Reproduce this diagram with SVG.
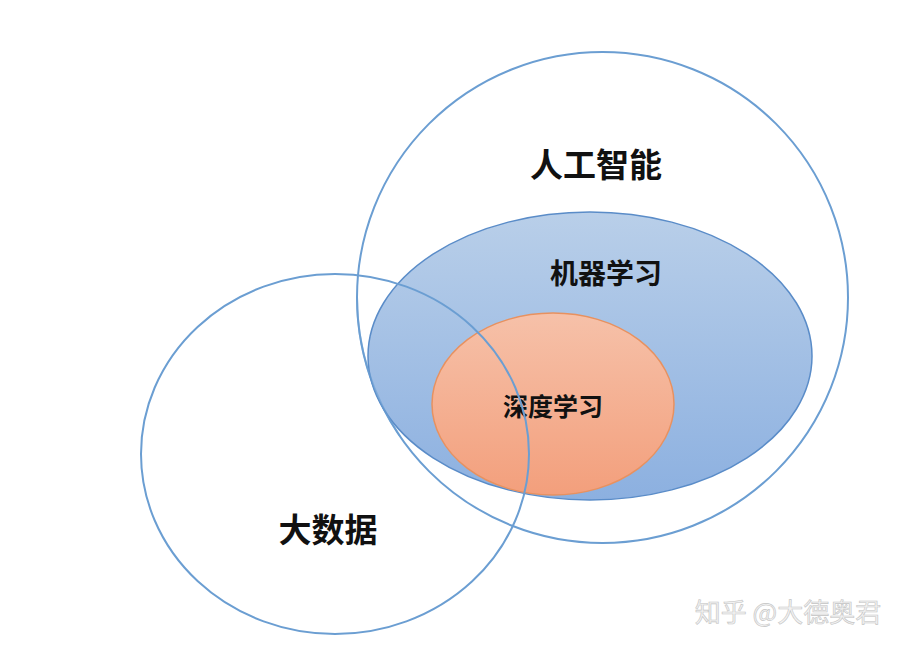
<svg xmlns="http://www.w3.org/2000/svg" width="908" height="648" viewBox="0 0 908 648">
<defs>
<linearGradient id="gML" x1="0" y1="0" x2="0" y2="1">
<stop offset="0" stop-color="#b9cfe9"/>
<stop offset="1" stop-color="#8cb0e0"/>
</linearGradient>
<linearGradient id="gDL" x1="0" y1="0" x2="0" y2="1">
<stop offset="0" stop-color="#f6c1a9"/>
<stop offset="1" stop-color="#f39f7c"/>
</linearGradient>
</defs>
<style>
.ring{fill:none;stroke:#6b9ed2;stroke-width:2}
.lbl{font-family:"Noto Sans CJK SC","Noto Sans CJK JP",sans-serif;fill:#111;text-anchor:middle;dominant-baseline:central;font-weight:bold}
</style>
<rect width="908" height="648" fill="#fff"/>
<g id="ai">
<circle class="ring" cx="602.5" cy="297.5" r="245.5"/>
<text class="lbl" x="596" y="163" font-size="33">人工智能</text>
</g>
<g id="ml">
<ellipse cx="590" cy="356" rx="222" ry="144" fill="url(#gML)" stroke="#5a8cc8" stroke-width="1.5"/>
<text class="lbl" x="606" y="272" font-size="28">机器学习</text>
</g>
<g id="dl">
<ellipse cx="553" cy="404" rx="121" ry="91" fill="url(#gDL)" stroke="#e8915f" stroke-width="1.5"/>
<text class="lbl" x="553" y="405" font-size="25">深度学习</text>
</g>
<g id="bigdata">
<ellipse class="ring" cx="335" cy="454" rx="194" ry="180"/>
<text class="lbl" x="328" y="528" font-size="33">大数据</text>
</g>
<g id="ai-outline-top">
<path class="ring" d="M357,297.5 A245.5,245.5 0 0 0 400,436" stroke-opacity="0.6"/>
</g>
<g id="connectors"></g>
<text x="788" y="610" font-size="26" font-family="Noto Sans CJK SC,sans-serif" fill="#f2f2f2" stroke="#c4c4c4" stroke-width="0.6" text-anchor="middle" dominant-baseline="central">知乎 @大德奥君</text>
</svg>
